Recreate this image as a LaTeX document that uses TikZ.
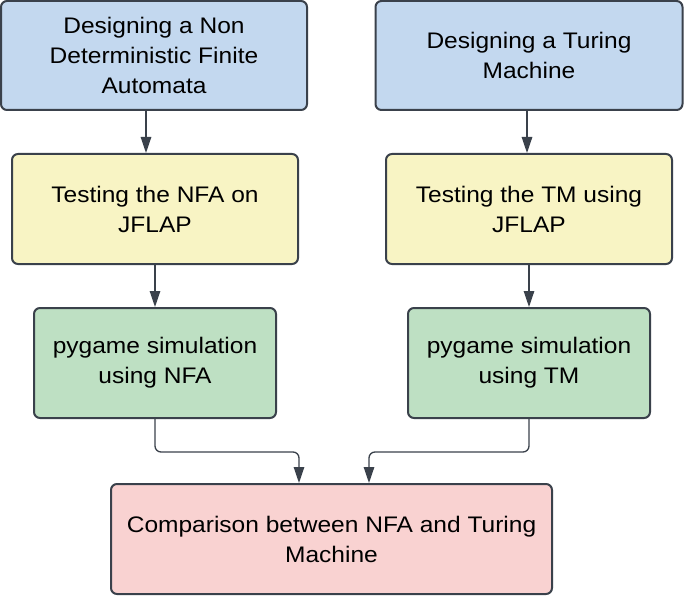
\documentclass[tikz,border=0pt]{standalone}
\usepackage{fontspec}
\setmainfont{Liberation Sans}[FakeStretch=1.09]
\usetikzlibrary{arrows.meta}
\definecolor{bxblue}{HTML}{C3D8EF}
\definecolor{bxyellow}{HTML}{F8F4C4}
\definecolor{bxgreen}{HTML}{BEE0C3}
\definecolor{bxpink}{HTML}{F9D2D1}
\definecolor{edge}{HTML}{3A414B}
\tikzset{
  box/.style={draw=edge, line width=2pt, rounded corners=6pt, align=center,
    inner sep=0pt, text=black, font=\fontsize{22.5}{30}\selectfont},
  arr/.style={draw=edge, line width=1.3pt, rounded corners=6pt,
    -{Triangle[length=16pt,width=10.5pt]}},
}
\begin{document}
\begin{tikzpicture}[x=1pt,y=-1pt]
\useasboundingbox (0,0) rectangle (685,596);
\node[box, fill=bxblue, minimum width=306pt, minimum height=109pt] (b1) at (154,55.5)
  {Designing a Non\\Deterministic Finite\\Automata};
\node[box, fill=bxblue, minimum width=307pt, minimum height=109pt] (b2) at (529,55.5)
  {Designing a Turing\\Machine};
\node[box, fill=bxyellow, minimum width=286pt, minimum height=110pt] (b3) at (155,209)
  {Testing the NFA on\\JFLAP};
\node[box, fill=bxyellow, minimum width=286pt, minimum height=110pt] (b4) at (529,209)
  {Testing the TM using\\JFLAP};
\node[box, fill=bxgreen, minimum width=242pt, minimum height=110pt] (b5) at (155,363)
  {pygame simulation\\using NFA};
\node[box, fill=bxgreen, minimum width=242pt, minimum height=110pt] (b6) at (529,363)
  {pygame simulation\\using TM};
\node[box, fill=bxpink, minimum width=441pt, minimum height=110pt] (b7) at (331.5,539)
  {Comparison between NFA and Turing\\Machine};
\coordinate (c5) at (155,452);
\coordinate (c6) at (529,452);
\draw[arr] (b1.south -| 146,0) -- (b3.north -| 146,0);
\draw[arr] (b2.south -| 527,0) -- (b4.north -| 527,0);
\draw[arr] (b3.south) -- (b5.north);
\draw[arr] (b4.south) -- (b6.north);
\draw[arr] (b5.south) -- (c5) -- (c5 -| 299,0) -- (b7.north -| 299,0);
\draw[arr] (b6.south) -- (c6) -- (c6 -| 369,0) -- (b7.north -| 369,0);
\end{tikzpicture}
\end{document}
